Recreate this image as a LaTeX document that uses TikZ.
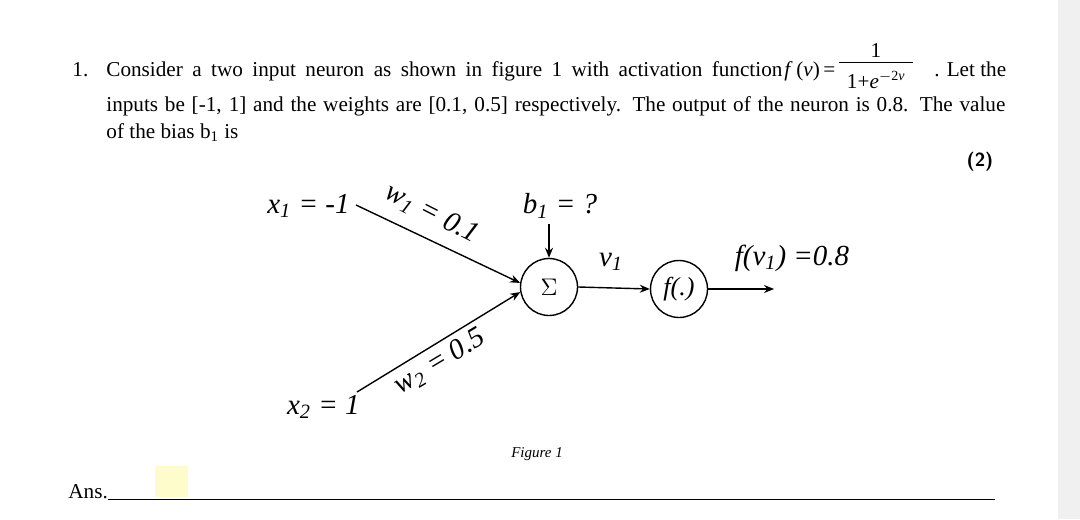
\documentclass[tikz,border=0pt]{standalone}
\usepackage{fontspec}
\setmainfont{Liberation Serif}
\usetikzlibrary{arrows.meta}
\begin{document}
\begin{tikzpicture}[x=0.5pt,y=-0.5pt,
  body/.style={font=\fontsize{10.6}{12}\selectfont,inner sep=0pt},
  lab/.style={font=\fontsize{14.5}{16}\selectfont\itshape,inner sep=1pt},
  neuron/.style={draw,circle,minimum size=28.5pt,inner sep=0pt,line width=0.7pt},
  conn/.style={line width=0.7pt},
  arr/.style={conn,-{Stealth[length=5pt,width=4pt]}}]
\useasboundingbox (0,0) rectangle (1080,519);
\fill[white] (0,0) rectangle (1080,519);
\fill[gray!12] (1058,0) rectangle (1080,519);
% text
\node[body,anchor=base west] (n1) at (72,76) {1.};
\node[body,anchor=base west] (l1) at (106,76) {\makebox[338pt][s]{Consider a two input neuron as shown in figure 1 with activation function}};
\node[body,anchor=base west] (fr) at (784,76) {\textit{f}\,(\textit{v})\,=\,\raisebox{-6pt}{\shortstack{1\\[-1pt]\rule{37pt}{0.4pt}\\[1pt]1+\textit{e}\raisebox{4pt}{\scriptsize$-$2\textit{v}}}}};
\node[body,anchor=base west] (l1b) at (934,76) {. Let the};
\node[body,anchor=base west] (l2) at (106,112) {\makebox[449.5pt][s]{inputs be [-1, 1] and the weights are [0.1, 0.5] respectively. The output of the neuron is 0.8. The value}};
\node[body,anchor=base west] (l3) at (106,138) {of the bias b\textsubscript{1} is};
\node[body,font=\fontsize{9.5}{11}\sffamily\bfseries,anchor=base] (mk) at (980,166) {(2)};
% diagram
\node[neuron,font=\fontsize{13}{14}\selectfont] (s) at (549,287) {$\Sigma$};
\node[neuron,font=\fontsize{13}{14}\selectfont\itshape] (f) at (679,289) {f(.)};
\coordinate (x1e) at (356,205);
\coordinate (x2e) at (357,392);
\coordinate (bt) at (549,224);
\coordinate (oe) at (774,289);
\draw[arr] (x1e) -- (s.172);
\draw[arr] (x2e) -- (s.190);
\draw[arr] (bt) -- (s.north);
\draw[arr] (s.east) -- (f.west);
\draw[arr] (f.east) -- (oe);
\node[lab,anchor=east] (x1) at (352,206) {x\textsubscript{1} = -1};
\node[lab,anchor=east] (x2) at (362,407) {x\textsubscript{2} = 1};
\node[lab,rotate=-27] (w1) at (432,214) {w\textsubscript{1} = 0.1};
\node[lab,rotate=31] (w2) at (440,362) {w\textsubscript{2} = 0.5};
\node[lab] (b1) at (560,206) {b\textsubscript{1} = ?};
\node[lab] (v1) at (611,262) {v\textsubscript{1}};
\node[lab] (fv) at (792,258) {f(v\textsubscript{1}) =0.8};
\node[body,font=\fontsize{7.5}{9}\selectfont\itshape] (cap) at (537,454) {Figure 1};
% answer line
\node[body,anchor=base west] (ans) at (68,498) {Ans.};
\fill[yellow!20] (155,466) rectangle (188,497);
\coordinate (ua) at (108,499);
\coordinate (ub) at (995,499);
\draw[line width=0.5pt] (ua) -- (ub);
\end{tikzpicture}
\end{document}
